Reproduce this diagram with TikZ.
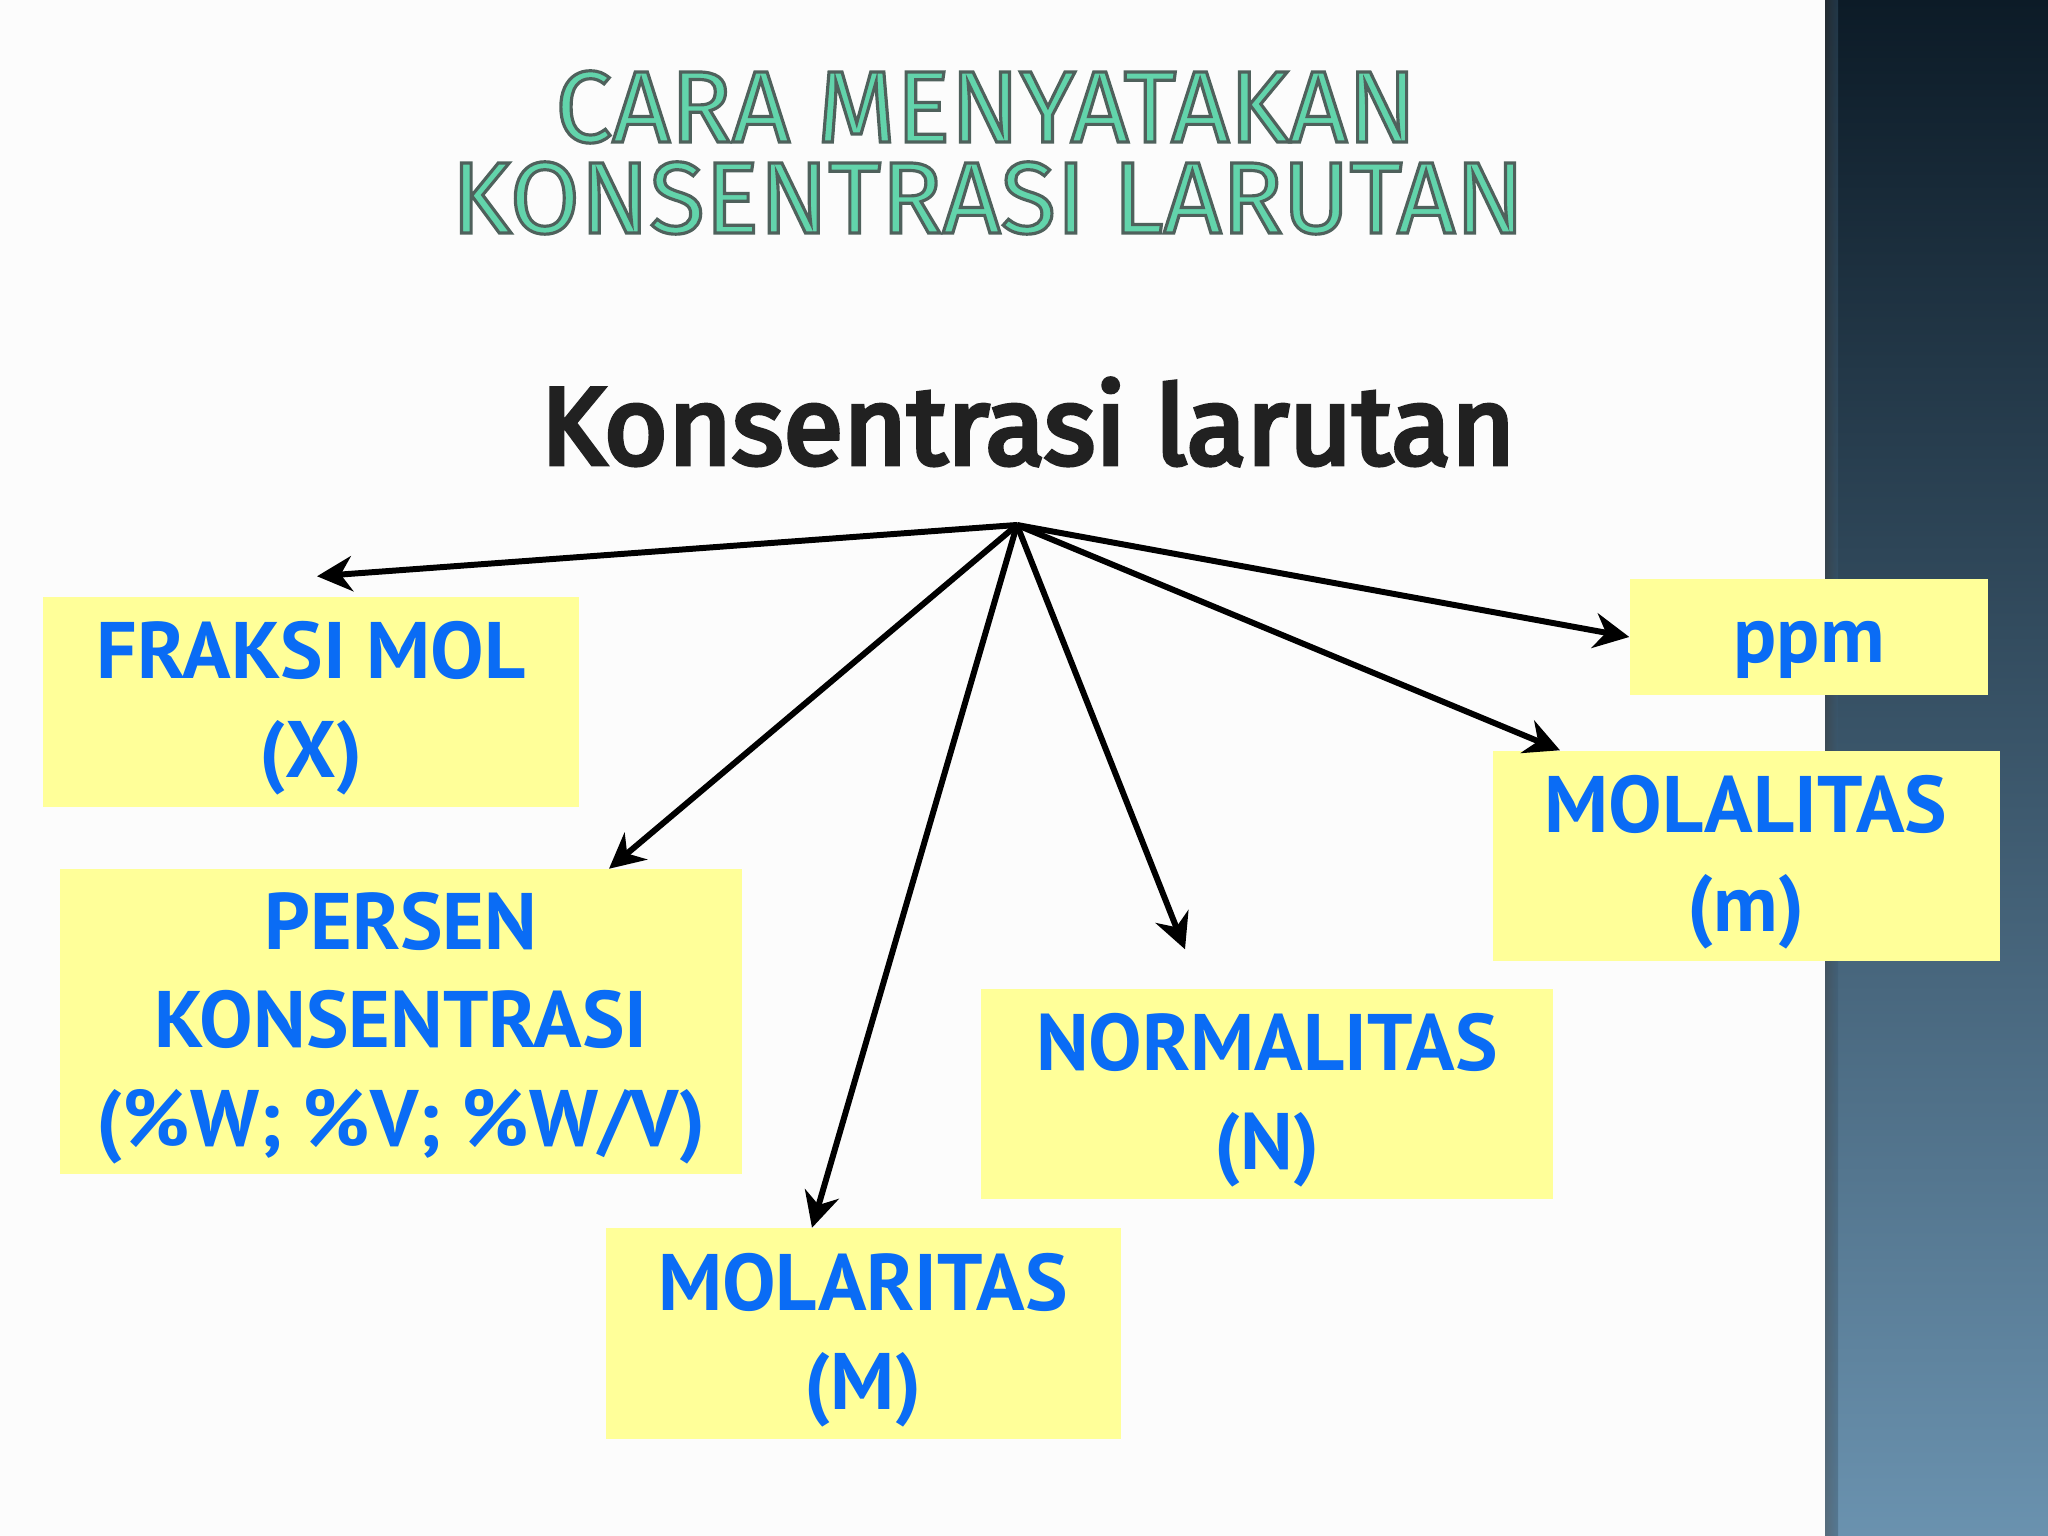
\documentclass[tikz,border=0pt]{standalone}
\usepackage{fontspec}
\setmainfont{PT Sans}
\newfontfamily\judulfont{Fira Sans}
\usepackage{xcolor}
\usetikzlibrary{arrows.meta, calc, positioning}

\definecolor{boxyellow}{HTML}{FFFF99}
\definecolor{boxblue}{HTML}{0A6CF5}
\definecolor{titlegreen}{HTML}{62D4AB}
\definecolor{paneltop}{HTML}{0C1B27}
\definecolor{panelmid}{HTML}{3B5A72}
\definecolor{panelbot}{HTML}{6A92AF}

% huruf berisi hijau dengan garis tepi abu-abu
\newcommand{\garistepi}[1]{{\color{titlegreen}\special{pdf:literal direct 0.31 0.38 0.36 RG 0.9 w 2 Tr}#1\special{pdf:literal direct 0 Tr}}}
% huruf hitam ditebalkan
\newcommand{\tebal}[1]{{\special{pdf:literal direct 0.13 0.13 0.13 RG 1.3 w 2 Tr}#1\special{pdf:literal direct 0 Tr}}}
% teks kotak sedikit diturunkan
\newcommand{\isi}[1]{\smash{\raisebox{-7pt}{\begin{tabular}{@{}c@{}}#1\end{tabular}}}}

\begin{document}
\begin{tikzpicture}[
    konsep/.style={fill=boxyellow, text=boxblue, font=\bfseries\fontsize{22.8}{27.9}\selectfont, inner sep=0pt},
    judul/.style={anchor=base, inner sep=0pt, font=\judulfont\fontsize{28.9}{30}\selectfont},
    panah/.style={line width=1.7pt, -{Stealth[length=10pt,width=10pt]}}]
    \useasboundingbox (0,0) rectangle (20.48,15.36);
    \fill[white!99!black] (0,0) rectangle (20.48,15.36);

    % panel kanan
    \shade[top color=paneltop, middle color=panelmid, bottom color=panelbot] (18.25,0) rectangle (20.48,15.36);
    \shade[left color=black!75, right color=panelmid, opacity=0.45] (18.25,0) rectangle (18.38,15.36);

    \node[judul] (t1) at (9.86, 13.94) {\garistepi{CARA MENYATAKAN}};
    \node[judul] (t2) at (9.88, 13.03) {\garistepi{KONSENTRASI LARUTAN}};

    \node[judul, font=\judulfont\fontsize{31.2}{34}\selectfont, text=black!87] (pusat) at (10.28, 10.72) {\tebal{Konsentrasi larutan}};
    \coordinate (hub) at (10.17, 10.11);

    \node[konsep, minimum width=5.36cm, minimum height=2.10cm] (fraksi) at (3.11, 8.34) {\isi{FRAKSI MOL\\(X)}};
    \node[konsep, minimum width=6.82cm, minimum height=3.05cm] (persen) at (4.01, 5.14) {\isi{PERSEN\\KONSENTRASI\\(\%W; \%V; \%W/V)}};
    \node[konsep, minimum width=5.15cm, minimum height=2.11cm] (molaritas) at (8.63, 2.02) {\isi{MOLARITAS\\(M)}};
    \node[konsep, minimum width=5.72cm, minimum height=2.10cm] (normalitas) at (12.67, 4.42) {\isi{NORMALITAS\\(N)}};
    \node[konsep, minimum width=5.07cm, minimum height=2.10cm] (molalitas) at (17.46, 6.80) {\isi{MOLALITAS\\(m)}};
    \node[konsep, minimum width=3.58cm, minimum height=1.16cm] (ppm) at (18.09, 8.99) {\isi{ppm}};

    \draw
    (hub) edge[panah] ([xshift=0.06cm, yshift=0.2cm]fraksi.north)
    (hub) edge[panah] ([xshift=2.08cm]persen.north)
    (hub) edge[panah] ([xshift=-0.51cm]molaritas.north)
    (hub) edge[panah] ([xshift=-0.82cm, yshift=0.39cm]normalitas.north)
    (hub) edge[panah] ([xshift=-1.86cm]molalitas.north)
    (hub) edge[panah] (ppm.west);
\end{tikzpicture}
\end{document}
